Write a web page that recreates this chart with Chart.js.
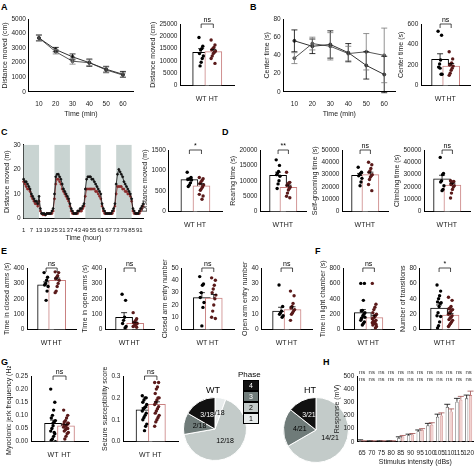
<!DOCTYPE html>
<html>
<head>
<meta charset="UTF-8">
<script src="https://cdn.jsdelivr.net/npm/chart.js"></script>
<style>
  body { margin: 0; background: #fff; font-family: Arial, 'Liberation Sans', sans-serif; }
  #fig { position: relative; width: 474px; height: 474px; }
  .p { position: absolute; }
  .p canvas { display: block; }
  .lab { position: absolute; font-weight: bold; font-size: 9px; }
  .ph { position: absolute; width: 14px; height: 9px; font-size: 7px; text-align: center; line-height: 9px; border: 1px solid #000; z-index: 5; }
</style>
</head>
<body>
<div id="fig">
  <div class="lab" style="left:1px;top:2px">A</div>
  <div class="lab" style="left:250px;top:2px">B</div>
  <div class="lab" style="left:1px;top:127px">C</div>
  <div class="lab" style="left:222px;top:127px">D</div>
  <div class="lab" style="left:1px;top:246px">E</div>
  <div class="lab" style="left:315px;top:246px">F</div>
  <div class="lab" style="left:1px;top:357px">G</div>
  <div class="lab" style="left:323px;top:357px">H</div>
  <div style="position:absolute;left:238px;top:370px;font-size:8px;z-index:5">Phase</div>
  <div class="ph" style="left:243px;top:380px;background:#111;color:#fff">4</div>
  <div class="ph" style="left:243px;top:391px;background:#6f7b79;color:#fff">3</div>
  <div class="ph" style="left:243px;top:402px;background:#c3cbc9">2</div>
  <div class="ph" style="left:243px;top:413px;background:#e8ecec">1</div>
  <div style="position:absolute;left:206px;top:385px;font-size:9px;z-index:5">WT</div>
  <div style="position:absolute;left:304px;top:385px;font-size:9px;z-index:5">HT</div>
</div>
<script>
// ---- data ----
const timeMin = [10, 20, 30, 40, 50, 60];
const aWT = [3700, 2900, 2400, 2000, 1550, 1200], aWTerr = [200, 150, 200, 250, 200, 200];
const aHT = [3700, 2750, 2100, 2000, 1500, 1150], aHTerr = [200, 150, 200, 200, 200, 150];
const bWT = [56, 50, 52, 43, 29, 19], bWTerr = [12, 8, 15, 10, 15, 20];
const bHT = [37, 53, 50, 42, 44, 40], bHTerr = [6, 7, 15, 8, 20, 30];

const hours = Array.from({length: 94}, (_, i) => i + 1);
const darkPhases = [[1, 13], [25, 37], [49, 61], [73, 85]];
const cWT = [16,15,15,14,13,12,10,9,8,7,7,6,9, 4,2,2,2,1.5,2,2,2,2,3,4,
  10,17,18,18,17,16,14,12,11,10,9,8,6, 4,3,2,2,2,3,3,4,4,5,6,
  12,16,17,17,17,16,16,15,14,13,12,11,10, 6,4,3,2,2,2,2,2,3,4,6,
  14,18,20,19,18,17,15,14,13,12,11,10,8, 4,3,2,2,2,3,4,5,6];
const cHT = [15,14,13,12,12,11,9,8,7,6,6,5,7, 3,2,1.5,1.5,1.5,2,2,2,2,2,3,
  8,14,16,16,15,14,12,11,10,9,8,7,5, 3,2,2,2,2,2,3,3,3,4,5,
  9,12,12,12,12,12,12,12,11,11,10,9,8, 5,3,2,2,2,2,2,2,2,3,5,
  10,13,13,13,13,12,12,11,11,10,10,9,7, 3,2,2,2,2,2,3,4,5];

const groups = ['WT', 'HT'];
const phaseColors = ['#e8ecec', '#c3cbc9', '#6f7b79', '#111111'];
const pieWT = [1, 12, 2, 3], pieHT = [0, 14, 4, 3];

const stimulus = [65, 70, 75, 80, 85, 90, 95, 100, 105, 110, 115, 120];
const hWT = [10, 5, 5, 5, 30, 50, 80, 125, 190, 265, 305, 330];
const hWTerr = [5, 3, 3, 3, 8, 8, 10, 15, 20, 20, 25, 25];
const hHT = [5, 5, 5, 5, 40, 55, 90, 130, 200, 230, 320, 355];
const hHTerr = [3, 3, 3, 3, 8, 8, 10, 15, 20, 20, 25, 30];

const T = {fontSize: 6.5, axis: 7};
const HTred = '#c98080', HTdot = '#5a1a1a';

// ---- plugins ----
const errPlugin = {
  id: 'errs',
  afterDatasetsDraw(chart) {
    const c = chart.ctx, ys = chart.scales.y;
    chart.data.datasets.forEach((ds, di) => {
      if (!ds.errs) return;
      const meta = chart.getDatasetMeta(di);
      meta.data.forEach((el, i) => {
        const v = ds.data[i], val = typeof v === 'object' ? v.y : v, e = ds.errs[i];
        const top = ys.getPixelForValue(val + e), bot = ds.both ? ys.getPixelForValue(val - e) : el.y;
        c.save();
        c.strokeStyle = ds.errColor || '#000'; c.lineWidth = 0.8;
        c.beginPath();
        c.moveTo(el.x, top); c.lineTo(el.x, bot);
        c.moveTo(el.x - 3, top); c.lineTo(el.x + 3, top);
        if (ds.both) { c.moveTo(el.x - 3, bot); c.lineTo(el.x + 3, bot); }
        c.stroke(); c.restore();
      });
    });
  }
};
const sigPlugin = {
  id: 'sig',
  afterDraw(chart, args, o) {
    if (!o.text) return;
    const c = chart.ctx, xs = chart.scales.x, top = chart.chartArea.top;
    const x0 = xs.getPixelForValue(0), x1 = xs.getPixelForValue(1);
    c.save();
    c.strokeStyle = '#000'; c.lineWidth = 0.7;
    c.beginPath();
    c.moveTo(x0, top + 4); c.lineTo(x0, top); c.lineTo(x1, top); c.lineTo(x1, top + 4);
    c.stroke();
    c.fillStyle = '#000'; c.font = '7px Arial'; c.textAlign = 'center';
    c.fillText(o.text, (x0 + x1) / 2, top - 2);
    c.restore();
  }
};
const bandPlugin = {
  id: 'bands',
  beforeDatasetsDraw(chart, args, o) {
    if (!o.ranges) return;
    const c = chart.ctx, xs = chart.scales.x, a = chart.chartArea;
    c.save(); c.fillStyle = '#c9d4d2';
    o.ranges.forEach(r => {
      const x0 = xs.getPixelForValue(r[0] - 1), x1 = xs.getPixelForValue(r[1] - 1);
      c.fillRect(x0, a.top, x1 - x0, a.bottom - a.top);
    });
    c.restore();
  }
};
const pieLabels = {
  id: 'pieLabels',
  afterDatasetsDraw(chart, args, o) {
    if (!o.total) return;
    const c = chart.ctx, ds = chart.data.datasets[0];
    chart.getDatasetMeta(0).data.forEach((arc, i) => {
      if (!ds.data[i]) return;
      const p = arc.tooltipPosition();
      c.save(); c.font = '7px Arial'; c.textAlign = 'center'; c.textBaseline = 'middle';
      c.fillStyle = i === 3 ? '#fff' : '#000';
      c.fillText(ds.data[i] + '/' + o.total, p.x, p.y);
      c.restore();
    });
  }
};
Chart.register(errPlugin, sigPlugin, bandPlugin, pieLabels);
Chart.defaults.font.family = 'Arial, Liberation Sans, sans-serif';
Chart.defaults.font.size = T.fontSize;
Chart.defaults.color = '#222';
Chart.defaults.animation = false;
Chart.defaults.plugins.legend.display = false;
Chart.defaults.plugins.tooltip.enabled = false;

function box(left, top, w, h) {
  const d = document.createElement('div');
  d.className = 'p';
  Object.assign(d.style, {left: left + 'px', top: top + 'px', width: w + 'px', height: h + 'px'});
  const cv = document.createElement('canvas');
  d.appendChild(cv);
  document.getElementById('fig').appendChild(d);
  return cv;
}
function yAxis(title, max, step, fmt) {
  return {
    min: 0, max: max, border: {color: '#000'}, grid: {display: false, drawTicks: true, tickLength: 2, color: '#000'},
    ticks: {stepSize: step, padding: 1, callback: fmt || (v => v)},
    title: {display: true, text: title, font: {size: T.axis}, padding: 1}
  };
}
// jitter positions are a layout choice, spread points around each bar
function spread(vals, cx) {
  return vals.map((v, i) => ({x: cx + (((i * 7) % 9) - 4) * 0.045, y: v}));
}
function barPanel(cv, p) {
  new Chart(cv, {
    type: 'bar',
    data: {
      datasets: [
        {type: 'scatter', data: spread(p.wt, 0), pointRadius: 1.7, backgroundColor: '#000', borderWidth: 0},
        {type: 'scatter', data: spread(p.ht, 1), pointRadius: 1.7, backgroundColor: HTdot, borderWidth: 0},
        {data: [{x: 0, y: p.means[0]}, {x: 1, y: p.means[1]}], errs: p.errs, errColor: '#000',
         backgroundColor: '#fff', borderColor: ['#000', HTred], borderWidth: 1, barThickness: p.bw || 17}
      ]
    },
    options: {
      responsive: true, maintainAspectRatio: false,
      layout: {padding: {top: 10, right: 2}},
      plugins: {sig: {text: p.sig}},
      scales: {
        x: {type: 'linear', min: -0.6, max: 1.6, border: {color: '#000'}, grid: {display: false},
            afterBuildTicks: s => { s.ticks = [{value: 0}, {value: 1}]; },
            ticks: {callback: v => groups[v], padding: 1, font: {size: 7}}},
        y: yAxis(p.title, p.max, p.step, p.fmt)
      }
    }
  });
}
function linePanel(cv, wt, wtErr, ht, htErr, ytitle, max, step) {
  new Chart(cv, {
    type: 'line',
    data: {
      labels: timeMin,
      datasets: [
        {data: timeMin.map((t, i) => ({x: t, y: wt[i]})), errs: wtErr, both: true, borderColor: '#333', backgroundColor: '#333', borderWidth: 1, pointRadius: 1.5},
        {data: timeMin.map((t, i) => ({x: t, y: ht[i]})), errs: htErr, both: true, errColor: '#777', borderColor: '#555', backgroundColor: '#555', borderWidth: 1, pointRadius: 1.5}
      ]
    },
    options: {
      responsive: true, maintainAspectRatio: false,
      scales: {
        x: {type: 'linear', min: 4, max: 66, border: {color: '#000'}, grid: {display: false},
            afterBuildTicks: s => { s.ticks = timeMin.map(v => ({value: v})); },
            ticks: {padding: 1}, title: {display: true, text: 'Time (min)', font: {size: T.axis}, padding: 0}},
        y: yAxis(ytitle, max, step)
      }
    }
  });
}

// ---- row A / B ----
linePanel(box(0, 14, 138, 104), aWT, aWTerr, aHT, aHTerr, 'Distance moved (cm)', 5000, 1000);
barPanel(box(148, 14, 90, 90), {title: 'Distance moved (cm)', max: 25000, step: 5000, sig: 'ns', means: [13500, 13800], errs: [1500, 900],
  wt: [19500, 16000, 15000, 14500, 13000, 12000, 11000, 9500, 8000],
  ht: [18500, 16500, 15500, 15000, 14500, 14000, 13500, 13000, 12000, 11000, 9000]});
linePanel(box(262, 14, 138, 104), bWT, bWTerr, bHT, bHTerr, 'Center time (s)', 80, 20);
barPanel(box(396, 14, 78, 90), {title: 'Center time (s)', max: 600, step: 200, sig: 'ns', means: [255, 190], errs: [55, 25],
  wt: [530, 490, 250, 210, 180, 110, 110, 170],
  ht: [330, 260, 220, 210, 200, 190, 170, 150, 120, 100]});

// ---- row C / D ----
new Chart(box(2, 140, 146, 102), {
  type: 'line',
  data: {
    labels: hours,
    datasets: [
      {data: cWT, borderColor: '#111', backgroundColor: '#111', borderWidth: 0.8, pointRadius: 1},
      {data: cHT, borderColor: '#8b2a2a', backgroundColor: '#8b2a2a', borderWidth: 0.8, pointRadius: 1}
    ]
  },
  options: {
    responsive: true, maintainAspectRatio: false,
    plugins: {bands: {ranges: darkPhases}},
    scales: {
      x: {border: {color: '#000'}, grid: {display: false},
          ticks: {autoSkip: false, maxRotation: 0, padding: 0, font: {size: 6}, callback: (v, i) => i % 6 === 0 ? hours[i] : ''},
          title: {display: true, text: 'Time (hour)', font: {size: T.axis}, padding: 0}},
      y: yAxis('Distance moved (m)', 30, 10)
    }
  }
});
barPanel(box(140, 140, 86, 90), {title: 'Distance moved (m)', max: 1500, step: 500, sig: '*', means: [780, 630], errs: [35, 50],
  wt: [960, 830, 800, 790, 780, 770, 700, 650, 610],
  ht: [830, 800, 760, 720, 680, 650, 600, 560, 520, 420, 380, 300]});
barPanel(box(228, 140, 82, 90), {title: 'Rearing time (s)', max: 20000, step: 5000, sig: '**', means: [11800, 7900], errs: [1000, 700],
  wt: [16800, 15000, 13000, 12500, 12000, 11500, 10000, 9000, 7500],
  ht: [12800, 9500, 9300, 9000, 8500, 8000, 7500, 7000, 6000, 5000, 4500]});
barPanel(box(310, 140, 82, 90), {title: 'Self-grooming time (s)', max: 50000, step: 10000, sig: 'ns', means: [29500, 30000], errs: [1500, 2000],
  wt: [36000, 32000, 31000, 30000, 29000, 27000, 24000, 21000],
  ht: [40000, 38000, 35000, 33000, 32000, 30000, 29000, 28000, 26000, 22000, 17000]});
barPanel(box(392, 140, 82, 90), {title: 'Climbing time (s)', max: 50000, step: 10000, sig: 'ns', means: [26500, 21500], errs: [3000, 1500],
  wt: [44000, 31000, 30000, 25000, 24000, 21000, 18000, 17000],
  ht: [25000, 24500, 24000, 23000, 22000, 21000, 20000, 18000, 15000, 11000]});

// ---- row E / F ----
barPanel(box(2, 258, 78, 90), {title: 'Time in closed arms (s)', max: 400, step: 100, sig: 'ns', means: [290, 320], errs: [20, 15],
  wt: [370, 340, 320, 300, 290, 280, 250, 190],
  ht: [375, 370, 350, 340, 330, 320, 300, 280, 250, 240]});
barPanel(box(80, 258, 78, 90), {title: 'Time in open arms (s)', max: 400, step: 100, sig: 'ns', means: [80, 40], errs: [30, 8],
  wt: [230, 190, 80, 60, 40, 20, 10],
  ht: [110, 70, 60, 50, 45, 40, 35, 30, 25, 20, 15]});
barPanel(box(160, 258, 78, 90), {title: 'Closed arm entry number', max: 50, step: 10, sig: 'ns', means: [26, 25.5], errs: [4, 3],
  wt: [43, 37, 36, 30, 26, 22, 18, 3],
  ht: [42, 40, 36, 33, 30, 28, 25, 20, 15, 10, 9]});
barPanel(box(240, 258, 76, 90), {title: 'Open arm entry number', max: 40, step: 10, sig: 'ns', means: [12, 13], errs: [2.5, 1.8],
  wt: [29, 15, 12, 11, 10, 9, 8],
  ht: [25, 22, 17, 15, 14, 13, 12, 11, 10, 6]});
barPanel(box(318, 258, 80, 90), {title: 'Time in light chamber (s)', max: 800, step: 200, sig: 'ns', means: [220, 155], errs: [40, 30],
  wt: [600, 600, 380, 250, 240, 220, 200, 180, 150, 120, 100, 80, 60, 140, 160],
  ht: [600, 330, 290, 260, 220, 200, 180, 160, 150, 140, 120, 100, 80, 60, 40, 20, 180, 110, 90, 70]});
barPanel(box(398, 258, 76, 90), {title: 'Number of transitions', max: 80, step: 20, sig: '*', means: [28, 19], errs: [4, 2],
  wt: [58, 50, 44, 40, 36, 35, 34, 30, 22, 18, 17, 10, 5, 2],
  ht: [42, 38, 30, 28, 27, 26, 25, 23, 22, 20, 18, 16, 15, 13, 12, 10, 8, 6, 4]});

// ---- row G / H ----
barPanel(box(4, 366, 88, 94), {title: 'Myoclonic jerk frequency (Hz)', max: 0.25, step: 0.05, sig: 'ns', means: [0.07, 0.06], errs: [0.012, 0.006],
  fmt: v => v.toFixed(2),
  wt: [0.2, 0.15, 0.12, 0.1, 0.09, 0.08, 0.075, 0.06, 0.05, 0.04, 0.03, 0.02, 0.01, 0.005, 0, 0.035, 0.07],
  ht: [0.12, 0.1, 0.09, 0.08, 0.075, 0.07, 0.065, 0.06, 0.06, 0.055, 0.05, 0.05, 0.045, 0.04, 0.035, 0.03, 0.02, 0.01, 0.065, 0.07]});
barPanel(box(100, 366, 82, 94), {title: 'Seizure susceptibility score', max: 0.3, step: 0.1, sig: 'ns', means: [0.145, 0.17], errs: [0.01, 0.012],
  fmt: v => v.toFixed(1),
  wt: [0.21, 0.2, 0.2, 0.19, 0.18, 0.17, 0.16, 0.155, 0.15, 0.14, 0.13, 0.12, 0.11, 0.1, 0.08, 0.07, 0.05],
  ht: [0.27, 0.27, 0.25, 0.24, 0.22, 0.2, 0.2, 0.19, 0.18, 0.17, 0.16, 0.15, 0.14, 0.13, 0.12, 0.11, 0.1, 0.09, 0.07]});
function pie(cv, vals, total, size) {
  cv.width = size; cv.height = size;
  cv.style.width = size + 'px'; cv.style.height = size + 'px';
  new Chart(cv, {
    type: 'pie',
    data: {labels: ['1', '2', '3', '4'], datasets: [{data: vals, backgroundColor: phaseColors, borderColor: '#fff', borderWidth: 1}]},
    options: {responsive: false, maintainAspectRatio: false, plugins: {pieLabels: {total: total}}}
  });
}
pie(box(183, 397, 64, 64), pieWT, 18, 64);
pie(box(283, 397, 66, 66), pieHT, 21, 66);

new Chart(box(332, 366, 142, 100), {
  type: 'bar',
  data: {
    labels: stimulus,
    datasets: [
      {data: hWT, errs: hWTerr, backgroundColor: '#fff', borderColor: '#555', borderWidth: 0.8, barPercentage: 0.85, categoryPercentage: 0.8},
      {data: hHT, errs: hHTerr, errColor: '#a05050', backgroundColor: '#f2d2d0', borderColor: HTred, borderWidth: 0.8, barPercentage: 0.85, categoryPercentage: 0.8}
    ]
  },
  options: {
    responsive: true, maintainAspectRatio: false,
    layout: {padding: {top: 10}},
    scales: {
      x: {border: {color: '#000'}, grid: {display: false}, ticks: {autoSkip: false, maxRotation: 0, padding: 0, font: {size: 6.5}},
          title: {display: true, text: 'Stimulus intensity (dBs)', font: {size: T.axis}, padding: 0}},
      y: yAxis('Response (mV)', 500, 100)
    }
  },
  plugins: [{
    id: 'nsRow',
    afterDraw(chart) {
      const c = chart.ctx, xs = chart.scales.x, top = chart.chartArea.top;
      c.save(); c.font = '6px Arial'; c.textAlign = 'center'; c.fillStyle = '#333';
      stimulus.forEach((s, i) => { const x = xs.getPixelForValue(i); c.fillText('ns', x, top - 2); c.fillText('ns', x, top + 5); });
      c.restore();
    }
  }]
});
</script>
</body>
</html>
